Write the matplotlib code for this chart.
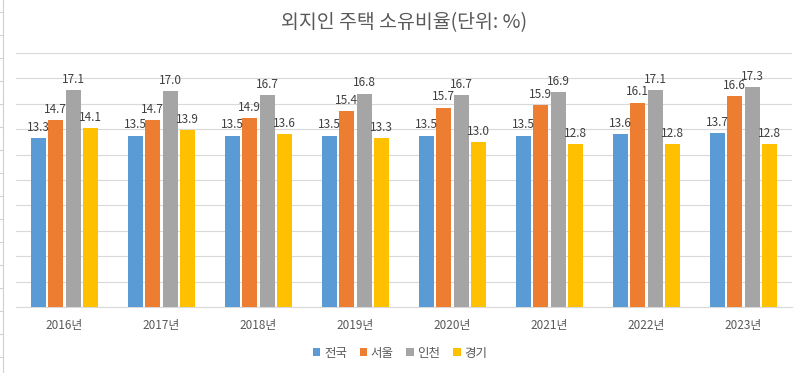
import numpy as np
import matplotlib
matplotlib.use('Agg')
import matplotlib.pyplot as plt
from matplotlib.lines import Line2D

plt.rcParams['font.family'] = ['Noto Sans CJK KR', 'DejaVu Sans']

years = ['2016년', '2017년', '2018년', '2019년', '2020년', '2021년', '2022년', '2023년']
series_names = ['전국', '서울', '인천', '경기']
jeonguk = [13.3, 13.5, 13.5, 13.5, 13.5, 13.5, 13.6, 13.7]
seoul = [14.7, 14.7, 14.9, 15.4, 15.7, 15.9, 16.1, 16.6]
incheon = [17.1, 17.0, 16.7, 16.8, 16.7, 16.9, 17.1, 17.3]
gyeonggi = [14.1, 13.9, 13.6, 13.3, 13.0, 12.8, 12.8, 12.8]
colors = ['#5B9BD5', '#ED7D31', '#A5A5A5', '#FFC000']

fig = plt.figure(figsize=(8, 3.73), dpi=100)
ax = fig.add_axes([16/800, 1-307/373, 776/800, (307-53)/373])

x = np.arange(len(years))
step = 0.18
width = 0.15
for i, (vals, name, c) in enumerate(zip([jeonguk, seoul, incheon, gyeonggi], series_names, colors)):
    pos = x + (i - 1.5) * step
    bars = ax.bar(pos, vals, width, color=c, label=name, zorder=3)
    for p, v in zip(pos, vals):
        ax.annotate('%.1f' % v, (p, v), xytext=(0, 3), textcoords='offset points',
                    ha='center', va='bottom', fontsize=8.5, color='#404040', zorder=4)

ax.set_xlim(-0.5, len(years) - 0.5)
ax.set_ylim(0, 20)
ax.set_yticks(np.arange(0, 21, 2))
ax.set_yticklabels([])
ax.tick_params(axis='y', length=0)
ax.tick_params(axis='x', length=0, labelsize=8.5, labelcolor='#595959', pad=9)
ax.set_xticks(x)
ax.set_xticklabels(years)
ax.grid(axis='y', color='#D9D9D9', linewidth=0.8, zorder=0)
for s in ['top', 'right', 'left']:
    ax.spines[s].set_visible(False)
ax.spines['bottom'].set_color('#D9D9D9')

fig.text(0.505, 1-23/373, '외지인 주택 소유비율(단위: %)', ha='center', va='center',
         fontsize=14, color='#595959')

fig.legend(loc='center', bbox_to_anchor=(0.5, 1-353/373), ncol=4, frameon=False,
           fontsize=9, handlelength=0.6, handleheight=0.6, handletextpad=0.3,
           columnspacing=1.0, labelcolor='#595959')

# spreadsheet edge on the left
fig.add_artist(Line2D([3/800, 3/800], [0, 1], color='#D0D0D0', linewidth=0.8))
for yy in np.arange(12, 373, 23):
    fig.add_artist(Line2D([0, 3/800], [1-yy/373, 1-yy/373], color='#D0D0D0', linewidth=0.8))

fig.savefig('out.png', dpi=100)
